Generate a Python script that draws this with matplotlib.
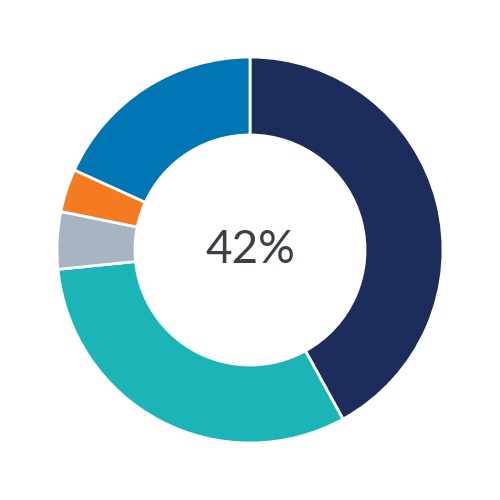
import matplotlib
matplotlib.use("Agg")
import matplotlib.pyplot as plt

labels = ["Navy", "Teal", "Gray", "Orange", "Blue"]
values = [42.0, 31.4, 4.8, 3.6, 18.2]
colors = ["#1c2d5b", "#1bb5b7", "#a9b4c2", "#f47b20", "#0075b4"]
center_label = "42%"

fig = plt.figure(figsize=(5, 5), dpi=100)
ax = fig.add_axes([0, 0, 1, 1])
ax.pie(values, colors=colors, startangle=90, counterclock=False,
       radius=1.0,
       wedgeprops=dict(width=0.404, edgecolor="white", linewidth=2))
lim = 250 / 193
ax.set_xlim(-lim, lim)
ax.set_ylim(-lim, lim)
ax.set_aspect("equal")
ax.axis("off")
ax.text(0, 0, center_label, ha="center", va="center", fontsize=33,
        family=["Lato", "DejaVu Sans"], color="#3b4048")
fig.savefig("out.png", dpi=100, facecolor="white")
